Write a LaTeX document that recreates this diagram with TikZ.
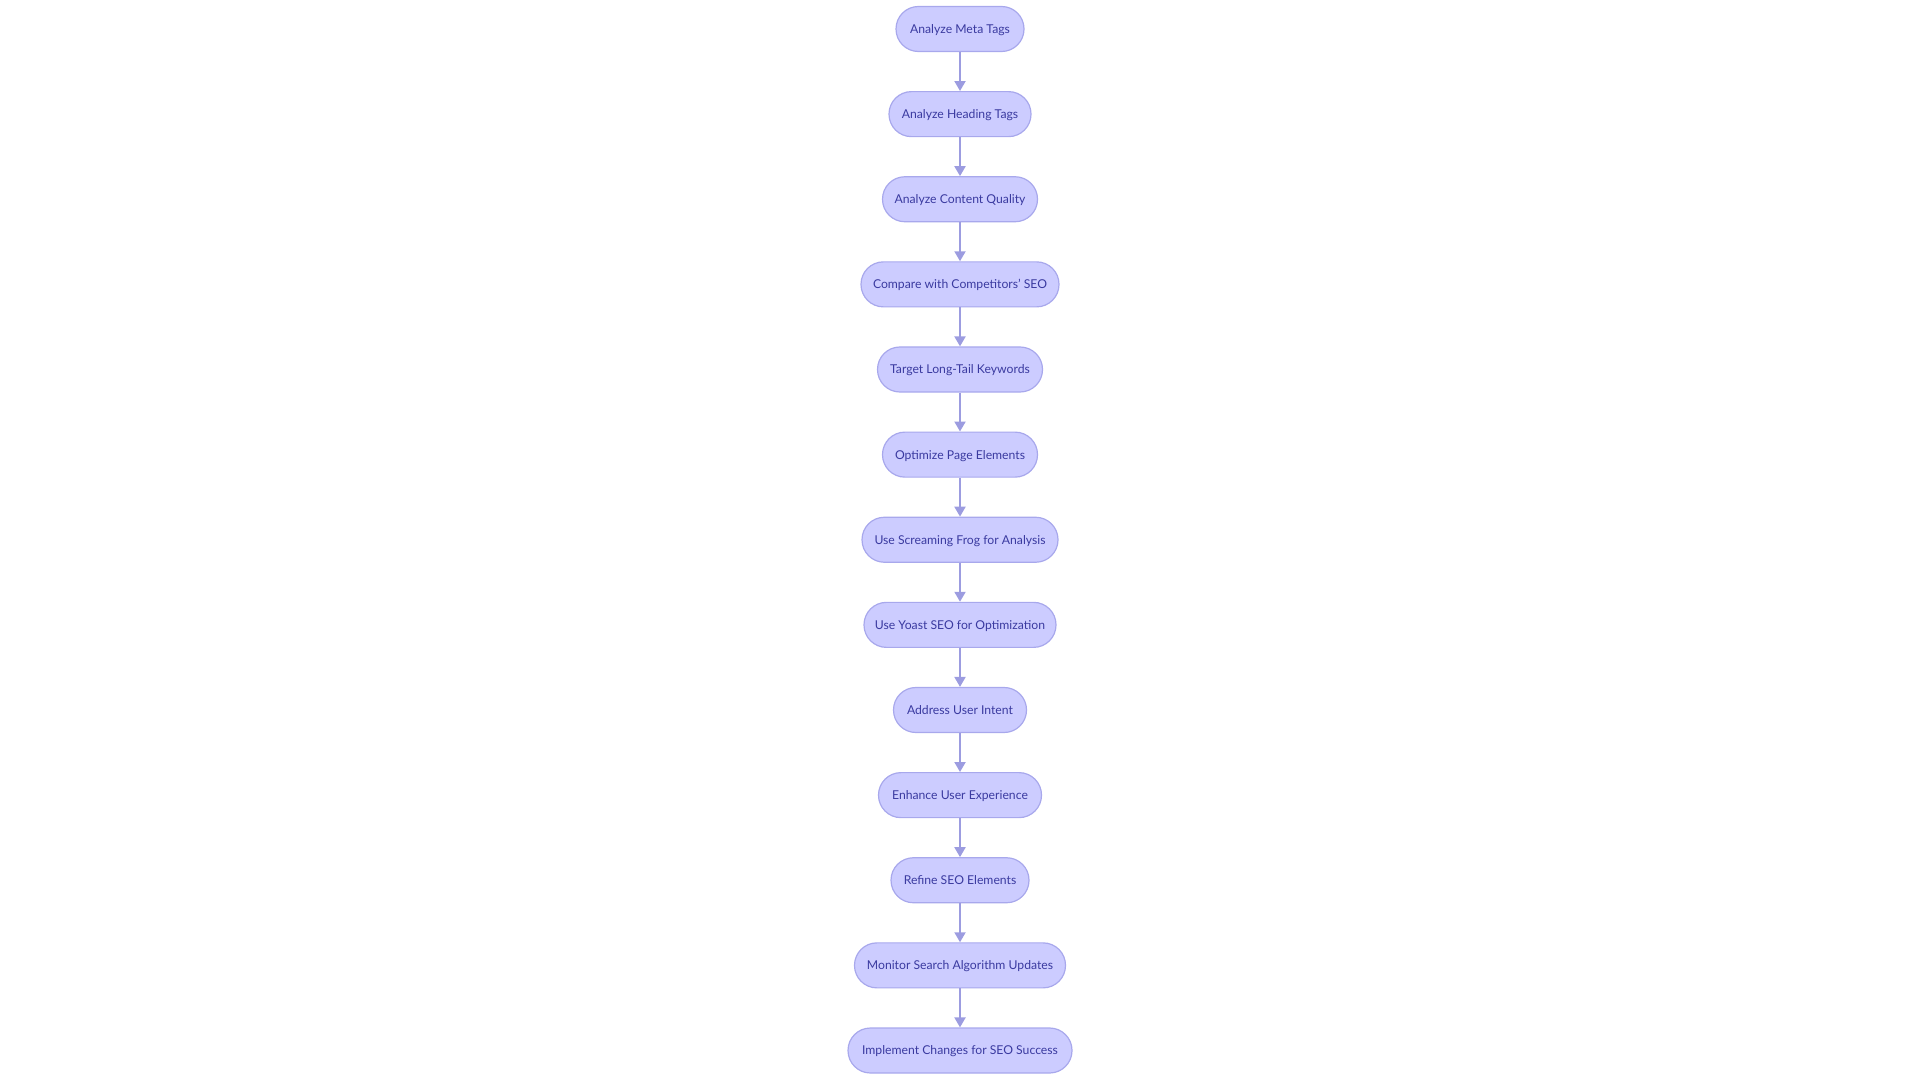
\documentclass[tikz,border=0pt]{standalone}
\usepackage{fontspec}
\setmainfont{Lato}
\usetikzlibrary{arrows.meta}
\definecolor{nodefill}{HTML}{CCCCFF}
\definecolor{nodeedge}{HTML}{A8A8EC}
\definecolor{nodetext}{HTML}{3A3AA0}
\definecolor{linkcol}{HTML}{9C9CE0}
\begin{document}
\begin{tikzpicture}[x=0.5pt,y=-0.5pt,
  stepbox/.style={draw=nodeedge, line width=0.6pt, fill=nodefill, rounded corners=11.2pt,
    minimum height=22.5pt, inner sep=0pt, text=nodetext, font=\fontsize{6.1pt}{8pt}\selectfont,
    text height=5.4pt, text depth=1pt},
  link/.style={draw=linkcol, line width=1pt, -{Triangle[length=5pt,width=5.5pt]}}]
\useasboundingbox (0,0) rectangle (1920,1080);
\def\dy{85.125}
\node[stepbox, minimum width=64pt]   (n1)  at (960,29) {Analyze Meta Tags};
\node[stepbox, minimum width=71pt]   (n2)  at (960,29+1*\dy) {Analyze Heading Tags};
\node[stepbox, minimum width=77.5pt] (n3)  at (960,29+2*\dy) {Analyze Content Quality};
\node[stepbox, minimum width=99pt]   (n4)  at (960,29+3*\dy) {Compare with Competitors' SEO};
\node[stepbox, minimum width=82.5pt] (n5)  at (960,29+4*\dy) {Target Long-Tail Keywords};
\node[stepbox, minimum width=77.5pt] (n6)  at (960,29+5*\dy) {Optimize Page Elements};
\node[stepbox, minimum width=98pt]   (n7)  at (960,29+6*\dy) {Use Screaming Frog for Analysis};
\node[stepbox, minimum width=96pt]   (n8)  at (960,29+7*\dy) {Use Yoast SEO for Optimization};
\node[stepbox, minimum width=66.5pt] (n9)  at (960,29+8*\dy) {Address User Intent};
\node[stepbox, minimum width=81.5pt] (n10) at (960,29+9*\dy) {Enhance User Experience};
\node[stepbox, minimum width=69pt]   (n11) at (960,29+10*\dy) {Refine SEO Elements};
\node[stepbox, minimum width=105.5pt](n12) at (960,29+11*\dy) {Monitor Search Algorithm Updates};
\node[stepbox, minimum width=112pt]  (n13) at (960,29+12*\dy) {Implement Changes for SEO Success};
\foreach \a/\b in {n1/n2,n2/n3,n3/n4,n4/n5,n5/n6,n6/n7,n7/n8,n8/n9,n9/n10,n10/n11,n11/n12,n12/n13}
  \draw[link] (\a) -- (\b);
\end{tikzpicture}
\end{document}
